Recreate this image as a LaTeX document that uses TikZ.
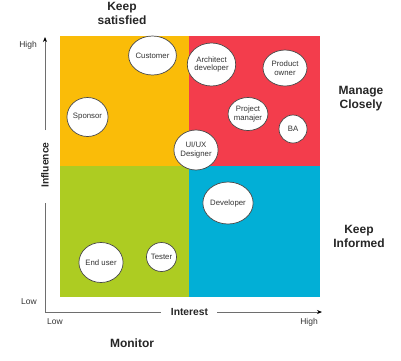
\documentclass[tikz,border=0pt]{standalone}
\usepackage{fontspec}
\setmainfont{Liberation Sans}
\usetikzlibrary{shapes.geometric,arrows.meta}
\definecolor{qorange}{RGB}{250,188,8}
\definecolor{qred}{RGB}{243,61,76}
\definecolor{qgreen}{RGB}{173,204,34}
\definecolor{qblue}{RGB}{2,175,214}
\definecolor{axisgray}{RGB}{110,110,110}
\definecolor{txtgray}{RGB}{51,51,51}
\tikzset{
  stake/.style={ellipse, draw=txtgray!90, line width=0.7pt, fill=white, inner sep=0pt,
    align=center, text=txtgray, font=\fontsize{7.8}{8.8}\selectfont},
  title/.style={align=center, font=\bfseries\fontsize{12}{14}\selectfont, text=black!85},
  axlabel/.style={font=\bfseries\fontsize{10.3}{12}\selectfont, text=black!85},
  ticklabel/.style={font=\fontsize{8.5}{10}\selectfont, text=txtgray},
  axisline/.style={draw=axisgray, line width=0.8pt}
}
\begin{document}
\begin{tikzpicture}[x=1pt,y=-1pt]
\useasboundingbox (0,0) rectangle (401,360);
% quadrants
\fill[qorange] (60,36) rectangle (189,166);
\fill[qred] (189,36) rectangle (319.5,166);
\fill[qgreen] (60,166) rectangle (189,297);
\fill[qblue] (189,166) rectangle (319.5,297);
% axes
\coordinate (origin) at (45,312);
\coordinate (ytop) at (45,37);
\coordinate (xend) at (322,312);
\node[axlabel, rotate=90] (infl) at (45,165) {Influence};
\node[axlabel] (intr) at (189.5,312) {Interest};
\draw[axisline] (origin) -- (45,203);
\draw[axisline, -{Stealth[length=5pt,width=4pt,black]}] (45,130) -- (ytop);
\draw[axisline] (origin) -- (161,312);
\draw[axisline, -{Stealth[length=5pt,width=4pt,black]}] (217,312) -- (xend);
% tick labels
\node[ticklabel] (yhigh) at (28,45) {High};
\node[ticklabel] (ylow) at (29,302) {Low};
\node[ticklabel] (xlow) at (55,322) {Low};
\node[ticklabel] (xhigh) at (309,322) {High};
% titles
\node[title] (ks) at (122,13.5) {Keep\\satisfied};
\node[title] (mc) at (361,99) {Manage\\Closely};
\node[title] (ki) at (359,236) {Keep\\Informed};
\node[title] (mo) at (132,343) {Monitor};
% stakeholders
\node[stake, minimum width=39pt, minimum height=39pt] (customer) at (152.5,55.5) {Customer};
\node[stake, minimum width=39pt, minimum height=39pt] (sponsor) at (87.5,117) {Sponsor};
\node[stake, minimum width=43pt, minimum height=43pt] (arch) at (211.5,64.5) {Architect\\developer};
\node[stake, minimum width=44pt, minimum height=36pt] (po) at (285,68) {Product\\owner};
\node[stake, minimum width=32pt, minimum height=33pt] (pm) at (248,114) {Project\\manajer};
\node[stake, minimum width=28pt, minimum height=28pt] (ba) at (293,129) {BA};
\node[stake, minimum width=40pt, minimum height=40pt] (uiux) at (196,150) {UI/UX\\Designer};
\node[stake, minimum width=42pt, minimum height=42pt] (dev) at (228,203) {Developer};
\node[stake, minimum width=40pt, minimum height=40pt] (enduser) at (101,262.5) {End user};
\node[stake, minimum width=29pt, minimum height=29pt] (tester) at (161.5,257) {Tester};
\end{tikzpicture}
\end{document}
